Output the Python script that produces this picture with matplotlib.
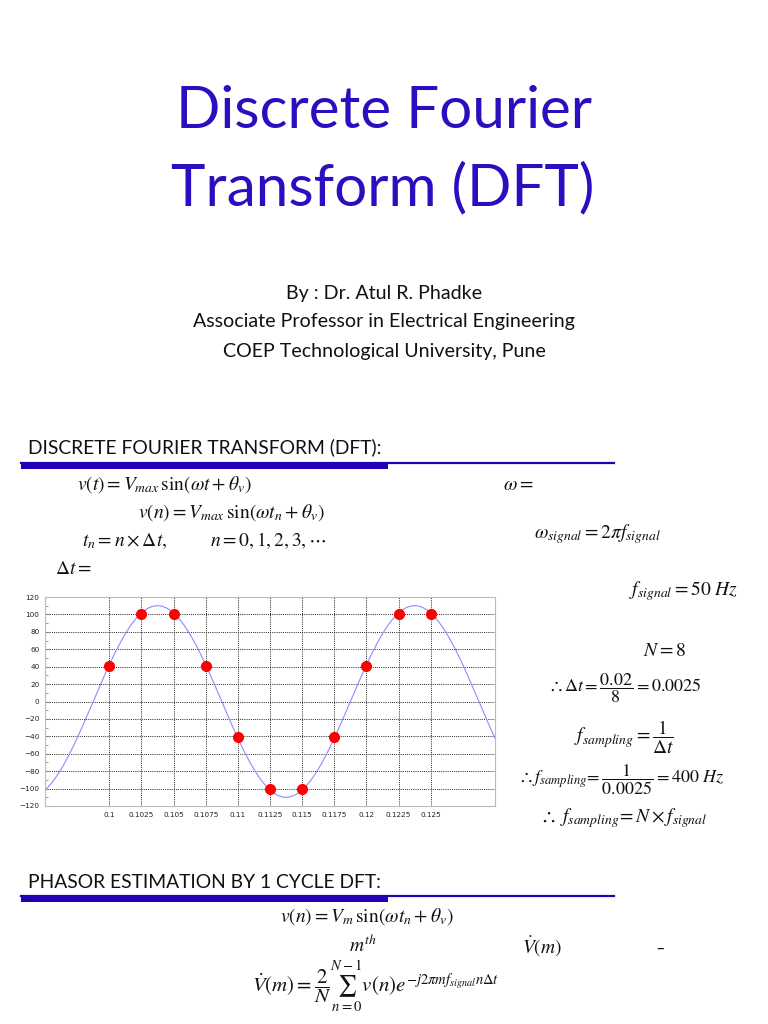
import numpy as np
import matplotlib
matplotlib.use("Agg")
import matplotlib.pyplot as plt
from matplotlib.patches import Rectangle
from matplotlib.lines import Line2D

plt.rcParams['mathtext.fontset'] = 'stix'

# ---------------- data ----------------
SAMPLE_T = [0.1, 0.1025, 0.105, 0.1075, 0.11, 0.1125, 0.115, 0.1175, 0.12, 0.1225, 0.125]
SAMPLE_V = [41, 101, 101, 41, -41, -100, -100, -41, 41, 100, 100]
X_TICKS = [0.1, 0.1025, 0.105, 0.1075, 0.11, 0.1125, 0.115, 0.1175, 0.12, 0.1225, 0.125]
X_TICK_LABELS = ['0.1', '0.1025', '0.105', '0.1075', '0.11', '0.1125', '0.115',
                 '0.1175', '0.12', '0.1225', '0.125']
Y_TICKS = [-120, -100, -80, -60, -40, -20, 0, 20, 40, 60, 80, 100, 120]
# continuous signal v(t) = Vmax sin(w t + theta), parameters
V_MAX = 110
F_SIGNAL = 50
T_PEAK = 0.10375
T_RANGE = (0.095, 0.130)

W, H = 768, 1024
fig = plt.figure(figsize=(W / 100, H / 100), dpi=100)
fig.patch.set_facecolor('white')

def fx(px):
    return px / W

def fy(py):
    return 1 - py / H

SANS = ['Lato', 'DejaVu Sans']
TITLE_C = '#2a0fc0'
BAR_C = '#2400b4'

# ---------------- title ----------------
fig.text(fx(384), fy(112), 'Discrete Fourier', ha='center', va='center',
         fontsize=42, color=TITLE_C, family=SANS)
fig.text(fx(383), fy(189), 'Transform (DFT)', ha='center', va='center',
         fontsize=42, color=TITLE_C, family=SANS)

for txt, y in [('By : Dr. Atul R. Phadke', 293),
               ('Associate Professor in Electrical Engineering', 322),
               ('COEP Technological University, Pune', 351)]:
    fig.text(fx(384), fy(y), txt, ha='center', va='center', fontsize=14.1,
             color='#111111', family=SANS)

# ---------------- section headers ----------------
def header(text, y_text, y_bar):
    fig.text(fx(28), fy(y_text), text, ha='left', va='center', fontsize=13.9,
             color='#111111', family=SANS)
    fig.add_artist(Rectangle((fx(21), fy(y_bar + 7)), fx(388) - fx(21), 7 / H,
                             transform=fig.transFigure, color=BAR_C, lw=0))
    fig.add_artist(Line2D([fx(21), fx(614)], [fy(y_bar + 1), fy(y_bar + 1)],
                          transform=fig.transFigure, color=BAR_C, lw=1.6))

header('DISCRETE FOURIER TRANSFORM (DFT):', 447, 462)
header('PHASOR ESTIMATION BY 1 CYCLE DFT:', 882, 895)

# ---------------- equations ----------------
MS = 14
def eq(x, y, s, size=MS, ha='left'):
    fig.text(fx(x), fy(y), s, ha=ha, va='center', fontsize=size, color='#111111')

eq(77, 485, r'$v(t) = V_{max}\,\sin(\omega t + \theta_v)$')
eq(503, 484, r'$\omega =$')
eq(138, 513, r'$v(n) = V_{max}\,\sin(\omega t_n + \theta_v)$')
eq(82, 541, r'$t_n = n \times \Delta t,$')
eq(210, 541, r'$n = 0, 1, 2, 3, \cdots$')
eq(55, 568, r'$\Delta t =$')
eq(534, 534, r'$\omega_{signal} = 2\pi f_{signal}$')
eq(629, 591, r'$f_{signal} = 50\ Hz$')
eq(643, 650, r'$N = 8$')
eq(548, 688, r'$\therefore \Delta t = \dfrac{0.02}{8} = 0.0025$', size=13)
eq(574, 737, r'$f_{sampling} = \dfrac{1}{\Delta t}$')
eq(518, 780, r'$\therefore f_{sampling}\!= \dfrac{1}{0.0025} = 400\ Hz$', size=13)
eq(540, 818, r'$\therefore\ f_{sampling}\!= N \times f_{signal}$')

eq(280, 917, r'$v(n) = V_m\,\sin(\omega t_n + \theta_v)$')
eq(349, 945, r'$m^{th}$')
eq(522, 947, r'$\dot{V}(m)$')
eq(656, 948, '–', size=11)
eq(252, 986, r'$\dot{V}(m) = \dfrac{2}{N}\sum_{n=0}^{N-1} v(n)e^{-j2\pi m f_{signal} n\Delta t}$', size=15)

# ---------------- chart ----------------
ax = fig.add_axes([fx(45), fy(806), fx(495) - fx(45), (806 - 597) / H])
t = np.linspace(T_RANGE[0], T_RANGE[1], 600)
theta = np.pi / 2 - 2 * np.pi * F_SIGNAL * T_PEAK
ax.plot(t, V_MAX * np.sin(2 * np.pi * F_SIGNAL * t + theta), color='#8c8cff', lw=0.8, zorder=2)
ax.plot(SAMPLE_T, SAMPLE_V, 'o', color='#ff0000', ms=7, zorder=3)

ax.set_xlim(*T_RANGE)
ax.set_ylim(-120, 120)
ax.set_xticks(X_TICKS)
ax.set_xticklabels(X_TICK_LABELS)
ax.set_yticks(Y_TICKS)
ax.set_yticks(np.arange(-120, 121, 10), minor=True)
ax.tick_params(axis='both', labelsize=5.2, colors='#222222', length=0, pad=4)
ax.tick_params(axis='y', which='minor', length=2, direction='in', color='#888888')
ax.tick_params(axis='y', which='major', length=3, direction='in', color='#888888')
ax.grid(True, which='major', color='#222222', ls=(0, (1, 1.2)), lw=0.7, zorder=1)
for sp in ax.spines.values():
    sp.set_color('#bbbbbb')
    sp.set_linewidth(0.8)

fig.savefig('out.png', dpi=100, facecolor='white')
